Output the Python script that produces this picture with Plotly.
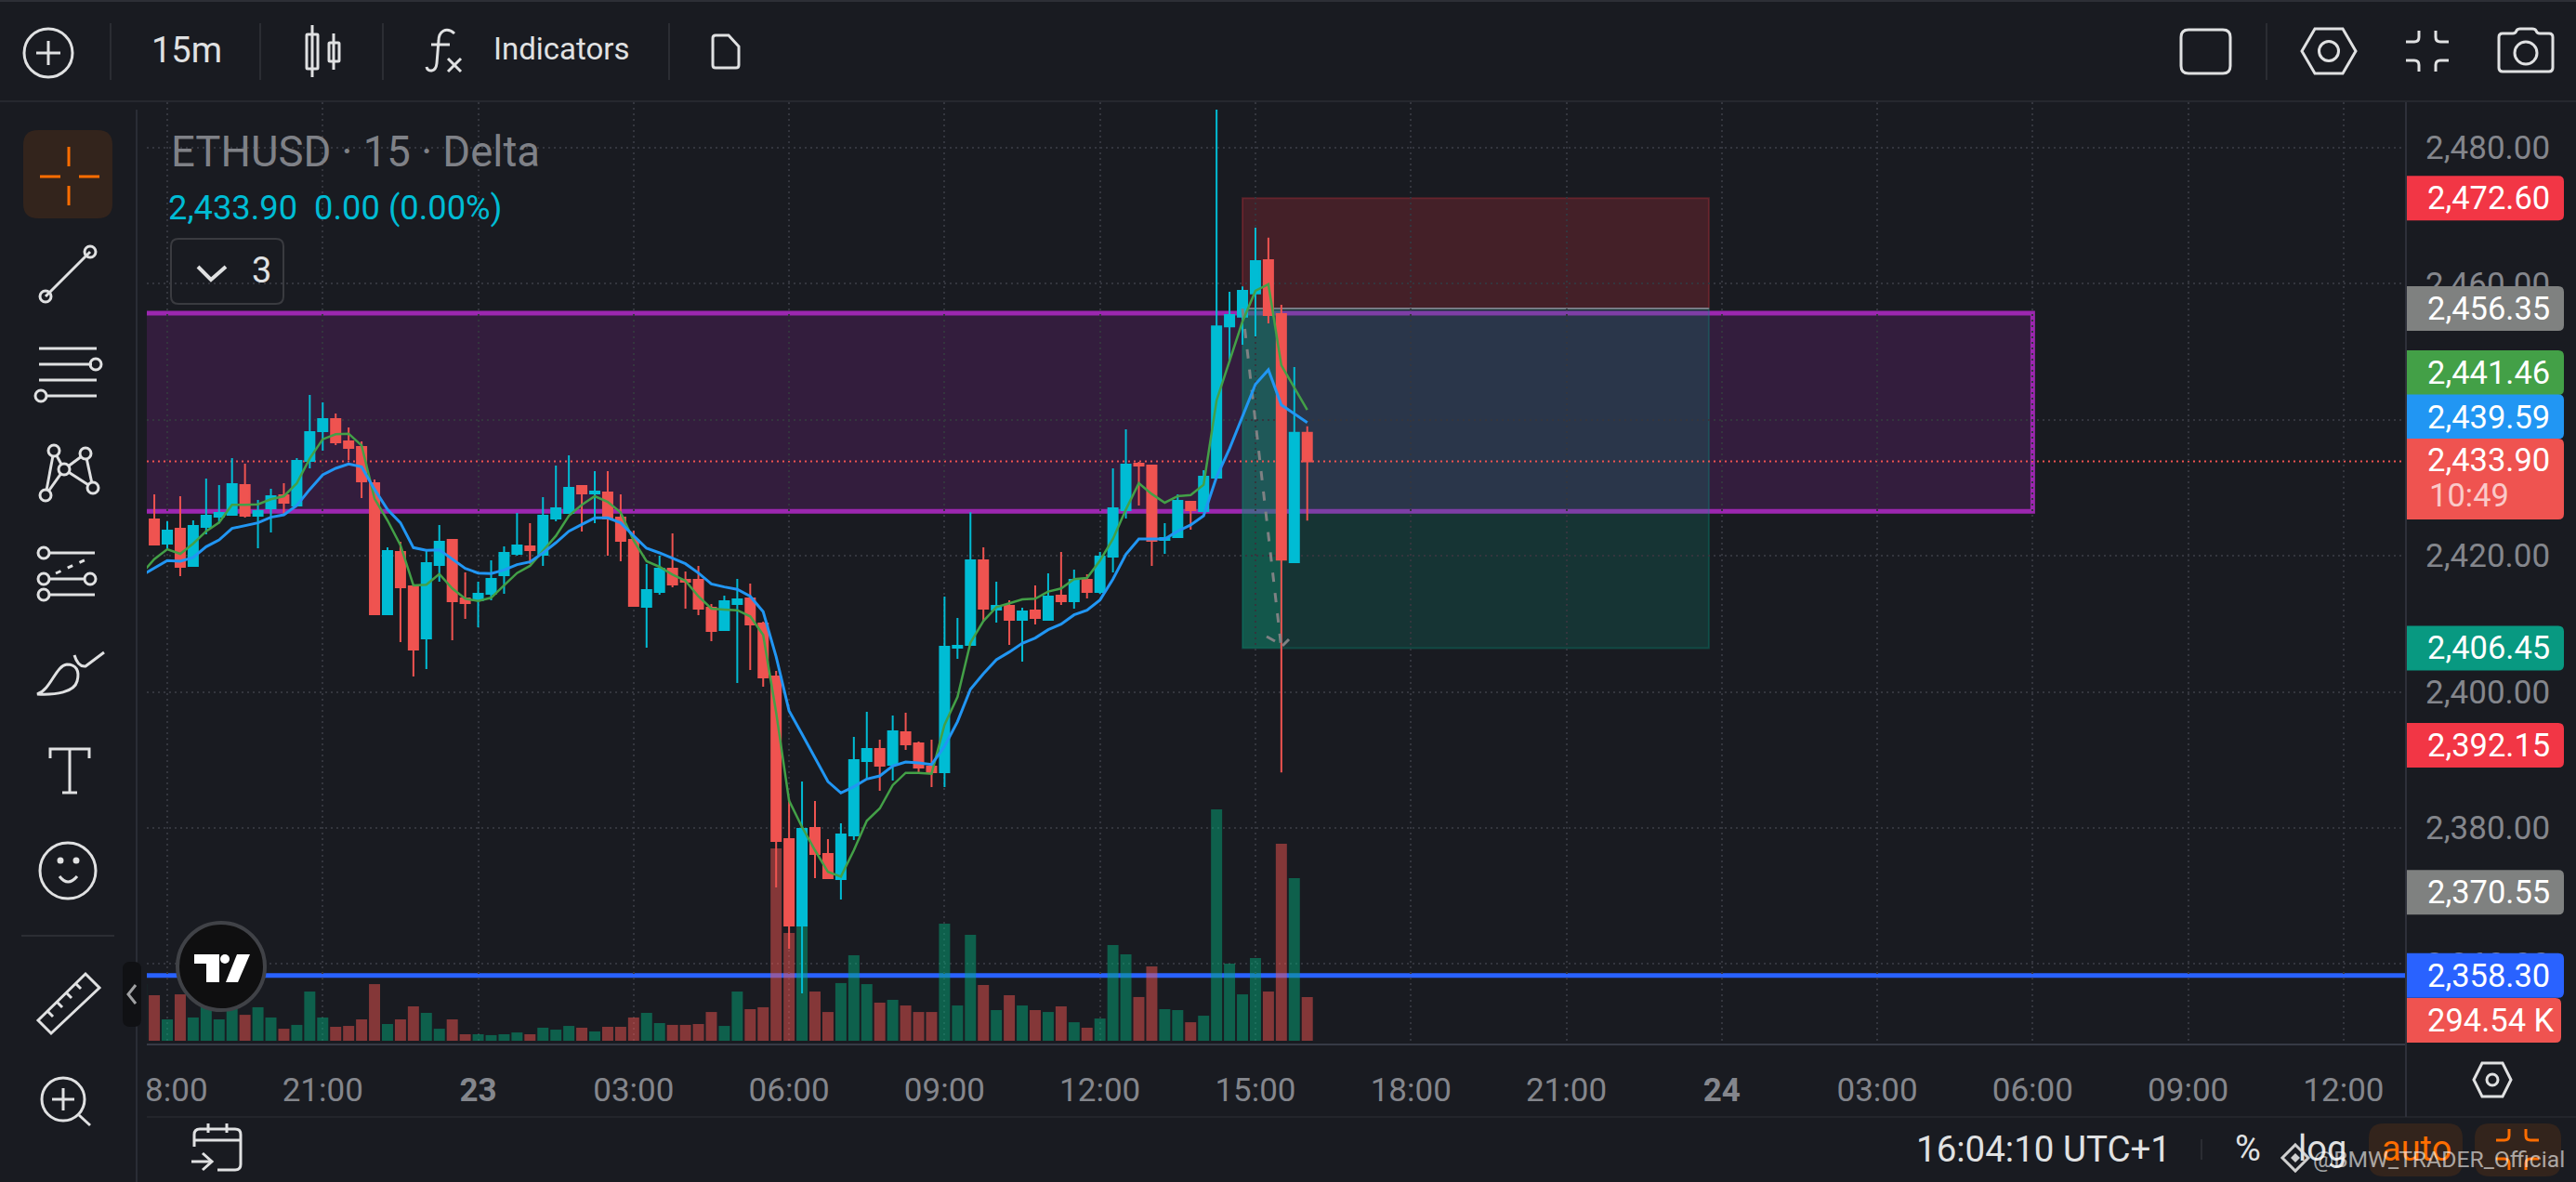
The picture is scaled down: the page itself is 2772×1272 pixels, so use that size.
import pandas as pd
import plotly.graph_objects as go

W, H = 2772, 1272
PLOT_L, PLOT_R, PLOT_T, PLOT_B = 158, 2588, 110, 1123
BAR_PX = 13.94

BG = "#191b21"
UP = "#00BCD4"
DOWN = "#EF5350"
GREY_TXT = "#84868c"
ICON = "#e0e1e2"
ORANGE = "#FF6D00"
FONT = "Roboto"

# 15 minute bars, first one (17:30) is only a sliver of volume at the left edge
times = pd.date_range("2025-06-22 17:30", periods=91, freq="15min")

opens = [
    2425.36, 2421.81, 2423.99, 2418.53, 2424.26, 2425.77, 2426.04, 2430.41, 2425.90, 2427.00,
    2428.91, 2427.41, 2433.96, 2438.33, 2440.11, 2436.83, 2436.01, 2430.68, 2411.42, 2420.58,
    2415.52, 2407.87, 2418.66, 2422.35, 2413.74, 2413.47, 2414.43, 2417.16, 2420.30, 2421.39,
    2420.17, 2425.49, 2426.31, 2430.27, 2429.18, 2429.32, 2425.63, 2422.35, 2412.51, 2414.70,
    2418.12, 2416.48, 2416.48, 2412.38, 2409.10, 2412.92, 2413.74, 2410.06, 2402.27, 2378.36,
    2365.65, 2380.00, 2376.18, 2372.49, 2378.91, 2389.84, 2391.61, 2389.29, 2394.07, 2392.43,
    2389.02, 2388.20, 2406.50, 2406.91, 2419.35, 2412.11, 2412.65, 2410.60, 2411.97, 2410.60,
    2414.15, 2413.33, 2416.48, 2414.70, 2419.89, 2426.72, 2433.55, 2433.28, 2422.35, 2422.76,
    2427.95, 2426.59, 2431.50, 2453.74, 2455.16, 2458.58, 2463.48, 2455.55, 2419.06, 2438.08,
]
highs = [
    2429.04, 2425.08, 2428.77, 2425.22, 2431.37, 2430.41, 2434.37, 2433.55, 2428.23, 2429.86,
    2430.68, 2434.37, 2443.66, 2442.57, 2440.93, 2438.88, 2436.83, 2431.23, 2421.26, 2422.08,
    2415.52, 2420.85, 2424.54, 2422.35, 2417.57, 2416.20, 2419.35, 2421.39, 2426.31, 2424.81,
    2428.64, 2433.28, 2434.78, 2430.27, 2432.46, 2432.46, 2429.04, 2423.72, 2418.80, 2420.03,
    2423.31, 2417.71, 2418.53, 2412.92, 2414.15, 2416.61, 2415.93, 2410.33, 2403.09, 2384.24,
    2386.83, 2383.96, 2378.36, 2380.68, 2393.39, 2397.08, 2392.98, 2396.53, 2396.94, 2392.70,
    2392.98, 2414.02, 2410.88, 2426.40, 2421.26, 2416.20, 2413.47, 2412.38, 2415.66, 2417.43,
    2420.58, 2417.98, 2417.30, 2420.58, 2432.87, 2438.61, 2433.83, 2433.42, 2424.81, 2429.04,
    2428.09, 2432.60, 2485.59, 2458.84, 2459.61, 2468.25, 2466.77, 2456.90, 2447.75, 2439.04,
]
lows = [
    2421.67, 2420.89, 2417.02, 2418.53, 2423.17, 2424.76, 2426.04, 2425.63, 2421.12, 2423.44,
    2426.04, 2427.41, 2432.87, 2435.47, 2436.29, 2434.10, 2428.50, 2411.29, 2411.42, 2407.32,
    2402.27, 2403.36, 2416.20, 2407.60, 2410.74, 2409.51, 2413.47, 2414.43, 2420.03, 2418.84,
    2418.53, 2425.08, 2426.18, 2423.58, 2424.81, 2420.03, 2419.21, 2412.65, 2406.50, 2414.29,
    2415.38, 2412.24, 2411.29, 2407.46, 2409.10, 2401.31, 2403.23, 2400.77, 2371.26, 2362.24,
    2355.68, 2372.62, 2372.62, 2369.48, 2378.23, 2387.24, 2385.47, 2386.97, 2391.48, 2388.06,
    2386.01, 2386.01, 2404.86, 2406.91, 2410.33, 2410.19, 2406.91, 2404.45, 2409.92, 2410.60,
    2412.79, 2412.24, 2413.74, 2414.43, 2417.57, 2425.49, 2427.41, 2418.53, 2420.30, 2422.62,
    2423.85, 2426.59, 2431.50, 2448.46, 2451.04, 2452.26, 2454.19, 2388.17, 2419.06, 2425.18,
]
closes = [
    2421.67, 2423.72, 2418.39, 2424.40, 2425.90, 2426.31, 2430.55, 2425.90, 2426.59, 2428.77,
    2427.82, 2433.96, 2438.20, 2440.11, 2436.70, 2435.88, 2430.96, 2411.42, 2420.71, 2415.38,
    2406.23, 2418.94, 2422.08, 2413.33, 2413.06, 2414.43, 2416.61, 2420.44, 2421.53, 2420.85,
    2425.90, 2427.00, 2430.00, 2429.18, 2429.45, 2425.49, 2422.21, 2412.65, 2414.97, 2418.12,
    2415.79, 2416.20, 2412.24, 2408.96, 2413.33, 2413.61, 2409.92, 2402.13, 2378.09, 2365.65,
    2379.86, 2376.18, 2372.62, 2379.05, 2389.97, 2391.61, 2389.15, 2394.21, 2392.30, 2388.88,
    2388.20, 2406.64, 2406.78, 2419.35, 2412.24, 2412.65, 2410.60, 2411.83, 2410.88, 2414.02,
    2413.33, 2416.48, 2414.70, 2419.89, 2427.00, 2433.42, 2433.28, 2422.21, 2422.62, 2428.09,
    2426.72, 2431.64, 2453.74, 2455.42, 2458.97, 2463.35, 2455.42, 2419.44, 2438.08, 2433.90,
]

ema_fast = [
    2417.34, 2419.53, 2420.98, 2420.30, 2421.81, 2423.63, 2424.90, 2427.50, 2427.50, 2427.59,
    2428.32, 2428.77, 2430.68, 2434.33, 2437.15, 2437.88, 2437.97, 2436.24, 2428.41, 2425.22,
    2421.58, 2415.66, 2415.75, 2417.34, 2415.20, 2413.70, 2413.38, 2413.84, 2415.66, 2417.48,
    2418.53, 2420.67, 2422.94, 2425.90, 2427.50, 2428.77, 2427.95, 2426.36, 2422.26, 2419.21,
    2418.39, 2417.25, 2416.34, 2414.06, 2412.24, 2412.11, 2412.01, 2411.10, 2408.37, 2396.99,
    2384.01, 2380.14, 2376.72, 2373.54, 2372.85, 2376.72, 2381.05, 2382.87, 2386.29, 2388.11,
    2388.11, 2387.97, 2395.17, 2399.26, 2407.23, 2410.42, 2412.47, 2413.02, 2413.61, 2413.70,
    2414.75, 2415.20, 2416.57, 2416.75, 2419.30, 2422.49, 2426.81, 2430.68, 2429.09, 2427.82,
    2428.77, 2428.95, 2430.46, 2442.85, 2448.65, 2454.45, 2458.97, 2459.93, 2448.01, 2444.78,
    2441.46,
]
ema_slow = [
    2417.11, 2418.25, 2419.30, 2419.21, 2419.76, 2421.35, 2422.35, 2424.04, 2424.40, 2424.86,
    2425.68, 2426.04, 2427.41, 2429.77, 2431.91, 2432.87, 2433.51, 2433.10, 2429.77, 2426.81,
    2424.86, 2421.21, 2420.81, 2420.89, 2419.53, 2418.16, 2417.48, 2417.39, 2417.93, 2418.71,
    2419.12, 2420.44, 2421.94, 2423.63, 2424.63, 2425.58, 2425.58, 2424.86, 2422.94, 2421.12,
    2420.44, 2419.62, 2418.84, 2417.48, 2415.88, 2415.43, 2415.07, 2414.06, 2411.79, 2405.18,
    2397.22, 2393.80, 2390.38, 2386.83, 2385.15, 2386.06, 2387.20, 2387.65, 2389.11, 2389.70,
    2389.56, 2389.34, 2391.98, 2395.62, 2400.40, 2402.68, 2404.73, 2405.87, 2407.14, 2407.92,
    2409.15, 2409.97, 2411.33, 2412.01, 2413.52, 2416.57, 2420.21, 2422.49, 2422.49, 2422.49,
    2423.63, 2424.54, 2425.90, 2431.60, 2435.75, 2440.59, 2445.23, 2447.36, 2442.20, 2440.91,
    2439.59,
]

# volume in thousands
volume_k = [
    382, 307, 144, 313, 157, 230, 144, 219, 175, 226,
    157, 81, 107, 332, 157, 94, 100, 144, 382, 113,
    144, 232, 188, 81, 144, 44, 44, 38, 44, 56,
    44, 88, 75, 100, 88, 63, 94, 94, 157, 188,
    119, 107, 107, 113, 194, 100, 332, 213, 226, 1297,
    727, 790, 332, 194, 389, 577, 382, 257, 276, 238,
    194, 194, 790, 238, 714, 376, 207, 307, 238, 207,
    194, 232, 125, 88, 150, 646, 583, 295, 501, 213,
    207, 125, 169, 1560, 520, 313, 558, 332, 1329, 1097,
    294.54,
]

price_ticks = [2480, 2460, 2440, 2420, 2400, 2380, 2360]
time_ticks = pd.date_range("2025-06-22 18:00", periods=15, freq="3h")
time_labels = ["18:00", "21:00", "<b>23</b>", "03:00", "06:00", "09:00", "12:00", "15:00",
               "18:00", "21:00", "<b>24</b>", "03:00", "06:00", "09:00", "12:00"]

# drawings on the chart
zone_top = 2455.68
zone_bottom = 2426.54
zone_end = "2025-06-24 06:00"
stop_price = 2472.60
entry_price = 2456.35
target_price = 2406.45
pos_start = "2025-06-23 14:45"
pos_fill_end = "2025-06-23 15:30"
pos_end = "2025-06-23 23:45"
hline_price = 2358.30
last_price = 2433.90

# right hand price tags: value, colour
tag_values = [2472.60, 2456.35, 2441.46, 2439.59, 2406.45, 2392.15, 2370.55, 2358.30]
tag_colors = ["#F23645", "#7f8180", "#43A047", "#2196F3", "#089981", "#F23645", "#7f8180", "#2962FF"]
# these two tags are stacked apart on the axis so they do not collide
tag_stacked_y = {2441.46: 401, 2439.59: 448.5}


def fx(x):
    return x / W


def fy(y):
    return 1 - y / H


def y_of_price(p):
    return 159 + (2480 - p) * 7.32


def px_path(d):
    # absolute M/L/Q/C/Z path in screen pixels -> paper fractions
    out, is_x = [], True
    for tok in d.split():
        if tok.isalpha():
            out.append(tok)
            is_x = True
        else:
            out.append(f"{fx(float(tok)):.5f}" if is_x else f"{fy(float(tok)):.5f}")
            is_x = not is_x
    return " ".join(out)


shapes = []
annotations = []


def path(d, color=ICON, width=3, fill=None):
    shapes.append(dict(type="path", path=px_path(d), xref="paper", yref="paper", layer="above",
                       line=dict(color=color, width=width), fillcolor=fill or "rgba(0,0,0,0)"))


def seg(x0, y0, x1, y1, color=ICON, width=3, dash=None):
    shapes.append(dict(type="line", xref="paper", yref="paper", layer="above",
                       x0=fx(x0), x1=fx(x1), y0=fy(y0), y1=fy(y1),
                       line=dict(color=color, width=width, dash=dash)))


def circle(cx, cy, r, color=ICON, width=3, fill=None):
    shapes.append(dict(type="circle", xref="paper", yref="paper", layer="above",
                       x0=fx(cx - r), x1=fx(cx + r), y0=fy(cy - r), y1=fy(cy + r),
                       line=dict(color=color, width=width), fillcolor=fill or "rgba(0,0,0,0)"))


def rrect(x0, y0, x1, y1, r, color=ICON, width=3, fill=None, left_r=None):
    lr = r if left_r is None else left_r
    path(f"M {x0 + lr} {y0} L {x1 - r} {y0} Q {x1} {y0} {x1} {y0 + r} L {x1} {y1 - r} "
         f"Q {x1} {y1} {x1 - r} {y1} L {x0 + lr} {y1} Q {x0} {y1} {x0} {y1 - lr} "
         f"L {x0} {y0 + lr} Q {x0} {y0} {x0 + lr} {y0} Z", color, width, fill)


def text(x, y, s, size, color=ICON, anchor="left", **kw):
    annotations.append(dict(x=fx(x), y=fy(y), xref="paper", yref="paper", text=s, showarrow=False,
                            xanchor=anchor, yanchor="middle", borderpad=0,
                            font=dict(family=FONT, size=size, color=color), **kw))


def collapse_icon(cx, cy, color=ICON):
    for sx, sy in [(-1, -1), (1, -1), (-1, 1), (1, 1)]:
        path(f"M {cx + sx * 23} {cy + sy * 10} L {cx + sx * 14} {cy + sy * 10} "
             f"Q {cx + sx * 9} {cy + sy * 10} {cx + sx * 9} {cy + sy * 15} L {cx + sx * 9} {cy + sy * 22}",
             color, 3)


def hexagon(cx, cy, hw, hh, inner, r):
    path(f"M {cx - hw} {cy} L {cx - inner} {cy - hh} L {cx + inner} {cy - hh} L {cx + hw} {cy} "
         f"L {cx + inner} {cy + hh} L {cx - inner} {cy + hh} Z")
    circle(cx, cy, r)


fig = go.Figure()

VOL_UP = "rgba(3,165,119,0.5)"
VOL_DOWN = "rgba(239,83,80,0.5)"
volume_colors = [VOL_UP] + [VOL_UP if c >= o else VOL_DOWN for o, c in zip(opens, closes)]
fig.add_trace(go.Bar(x=times, y=volume_k, marker=dict(color=volume_colors, line_width=0),
                     yaxis="y", showlegend=False))

# trade path of the position tool
fig.add_trace(go.Scatter(x=[pos_start, pos_fill_end], y=[entry_price, target_price], mode="lines",
                         line=dict(color="#7f8183", width=3, dash="10px,12px"),
                         yaxis="y2", showlegend=False))

fig.add_trace(go.Scatter(x=times, y=ema_fast, mode="lines", line=dict(color="#43A047", width=2.5),
                         yaxis="y2", showlegend=False))
fig.add_trace(go.Scatter(x=times, y=ema_slow, mode="lines", line=dict(color="#2196F3", width=3),
                         yaxis="y2", showlegend=False))
fig.add_trace(go.Candlestick(x=times[1:], open=opens, high=highs, low=lows, close=closes,
                             increasing=dict(line=dict(color=UP, width=2), fillcolor=UP),
                             decreasing=dict(line=dict(color=DOWN, width=2), fillcolor=DOWN),
                             whiskerwidth=0, yaxis="y2", showlegend=False))

bar_ms = pd.Timedelta(minutes=15)
x_lo = time_ticks[0] - bar_ms * ((180 - PLOT_L) / BAR_PX)
x_hi = time_ticks[0] + bar_ms * ((PLOT_R - 180) / BAR_PX)

# drawings under the candles
data_shapes = [
    dict(type="rect", x0=x_lo - bar_ms, x1=zone_end, y0=zone_bottom, y1=zone_top,
         line=dict(color="#9C27B0", width=5), fillcolor="rgba(156,39,176,0.2)"),
    dict(type="rect", x0=pos_start, x1=pos_end, y0=entry_price, y1=stop_price,
         line=dict(color="rgba(242,54,69,0.25)", width=2), fillcolor="rgba(242,54,69,0.2)"),
    dict(type="rect", x0=pos_start, x1=pos_end, y0=target_price, y1=entry_price,
         line=dict(color="rgba(8,153,129,0.3)", width=2), fillcolor="rgba(8,153,129,0.2)"),
    dict(type="rect", x0=pos_start, x1=pos_fill_end, y0=target_price, y1=entry_price,
         line=dict(width=0), fillcolor="rgba(16,140,110,0.4)"),
    dict(type="line", x0=pos_start, x1=pos_end, y0=entry_price, y1=entry_price,
         line=dict(color="#787b86", width=2)),
    dict(type="line", x0=x_lo, x1=x_hi, y0=hline_price, y1=hline_price,
         line=dict(color="#2962FF", width=5)),
    dict(type="line", x0=x_lo, x1=x_hi, y0=last_price, y1=last_price,
         line=dict(color=DOWN, width=2, dash="2px,4px")),
]
for s in data_shapes:
    shapes.append(dict(xref="x", yref="y2", layer="below", **s))

# arrow head of the trade path
seg(1363, 685, 1372, 690, "#7f8183", 3)
seg(1387, 688, 1380, 695, "#7f8183", 3)

# cover the clipped part of the first time label, left panel edge
shapes.append(dict(type="rect", xref="paper", yref="paper", layer="above",
                   x0=0, x1=fx(PLOT_L), y0=fy(1200), y1=fy(1124), line_width=0, fillcolor=BG))
seg(0, 1, W, 1, "#2d2f36", 2)
seg(0, 109, W, 109, "#26282f", 2)
seg(147, 118, 147, H, "#2a2d35", 2)
seg(PLOT_L, 1202, W, 1202, "#23252b", 2)
seg(2589, PLOT_B, 2589, 1202, "#2e303a", 2)

# price tags
LBL_X = 2611
TAG_SIZE = 34.5
for v, c in zip(tag_values, tag_colors):
    yc = tag_stacked_y.get(v, y_of_price(v))
    rrect(2590, yc - 24, 2759, yc + 24, 6, c, 0, c, left_r=0.01)
    text(LBL_X, yc, f"{v:,.2f}", TAG_SIZE, "#ffffff")
rrect(2590, 472, 2759, 559, 6, DOWN, 0, DOWN, left_r=0.01)
text(LBL_X, 495, f"{last_price:,.2f}", TAG_SIZE, "#ffffff")
text(LBL_X + 2, 533, "10:49", TAG_SIZE, "rgba(255,255,255,0.7)")
rrect(2590, 1074, 2756, 1122, 6, DOWN, 0, DOWN, left_r=0.01)
text(LBL_X, 1098, f"{volume_k[-1]:.2f} K", TAG_SIZE, "#ffffff")

# legend block
text(183, 163, "ETHUSD · 15 · Delta", 45.5, "#7f8187")
text(180, 224, "2,433.90&nbsp;&nbsp;0.00 (0.00%)", 36.3, UP)
rrect(184, 257, 305, 327, 8, "#3a3b40", 2)
path("M 213 287 L 227 301 L 243 287", ICON, 4)
text(281, 291, "3", 38, ICON, "center")

# top bar
circle(52, 57, 26)
seg(39, 57, 65, 57)
seg(52, 44, 52, 70)
for x in [119, 280, 412, 720]:
    seg(x, 25, x, 86, "#2b2d33", 2)
seg(2439, 25, 2439, 86, "#2b2d33", 2)
text(201, 54, "15m", 38, ICON, "center")
seg(336, 27, 336, 83)
rrect(330, 37, 342, 74, 1)
seg(359, 36, 359, 75)
rrect(354, 46, 365, 66, 1)
path("M 489 36 C 480 28 472 34 472 44 L 470 68 C 469 78 460 78 459 72")
seg(464, 48, 484, 48)
seg(482, 63, 496, 77)
seg(496, 63, 482, 77)
text(530, 53, "Indicators", 33, ICON)
path("M 770 38 L 784 38 L 795 50 L 795 70 Q 795 73 792 73 L 770 73 Q 767 73 767 70 L 767 41 Q 767 38 770 38 Z")
rrect(2347, 32, 2400, 79, 8)
hexagon(2506, 55, 29, 24, 15, 10.5)
collapse_icon(2612, 55)
path("M 2693 36 L 2704 36 Q 2707 36 2708 33 Q 2709 31 2712 31 L 2725 31 Q 2728 31 2729 33 "
     "Q 2730 36 2733 36 L 2743 36 Q 2747 36 2747 40 L 2747 73 Q 2747 77 2743 77 L 2693 77 "
     "Q 2689 77 2689 73 L 2689 40 Q 2689 36 2693 36 Z")
circle(2718, 57, 12)

# left toolbar
rrect(25, 140, 121, 235, 16, "#33241c", 0, "#33241c")
seg(43, 190, 65, 190, ORANGE, 3)
seg(85, 190, 107, 190, ORANGE, 3)
seg(74, 158, 74, 179, ORANGE, 3)
seg(74, 200, 74, 221, ORANGE, 3)
# trend line
seg(49, 319, 97, 271)
circle(97, 271, 6)
circle(49, 319, 6)
# lines tool
seg(42, 375, 104, 375)
seg(42, 392, 99, 392)
circle(103, 392, 6)
seg(42, 409, 104, 409)
seg(49, 426, 104, 426)
circle(44, 426, 6)
# pattern tool
seg(49, 533, 58, 485)
seg(58, 485, 69, 505)
seg(69, 505, 92, 488)
seg(92, 488, 100, 525)
seg(69, 505, 49, 533)
seg(69, 505, 100, 525)
for cx, cy in [(58, 485), (92, 488), (69, 505), (49, 533), (100, 525)]:
    circle(cx, cy, 6, fill=BG)
# channel tool
seg(52, 595, 102, 595)
circle(47, 595, 6)
seg(60, 617, 97, 600, dash="6px,8px")
seg(52, 623, 92, 623)
circle(47, 623, 6)
circle(97, 623, 6)
seg(52, 640, 102, 640)
circle(47, 640, 6)
# brush
path("M 40 747 C 55 742 60 716 72 715 C 82 715 86 722 83 733 C 80 745 60 748 40 747 Z")
path("M 80 705 Q 84 718 92 717 L 112 702")
# text tool
path("M 54 816 L 54 806 L 96 806 L 96 816")
seg(75, 806, 75, 853)
seg(67, 853, 83, 853)
# smile
circle(73, 937, 30)
circle(65, 926, 2, fill=ICON)
circle(82, 926, 2, fill=ICON)
path("M 64 943 Q 73 955 83 943")
seg(23, 1007, 123, 1007, "#2b2d33", 2)
# ruler
path("M 41 1098 L 92 1048 L 107 1063 L 55 1112 Z")
for x, y in [(51, 1088), (61, 1078), (71, 1068), (81, 1058)]:
    seg(x, y, x + 6, y + 6)
# magnifier
circle(68, 1183, 23)
seg(85, 1200, 97, 1211)
seg(56, 1183, 80, 1183)
seg(68, 1171, 68, 1195)
# collapse tab
rrect(132, 1035, 152, 1105, 8, "#101114", 0, "#101114")
path("M 146 1060 L 138 1070 L 146 1080", "#a0a1a3", 3)

# logo
circle(238, 1040, 47, "#404247", 4, "#0f0f10")
path("M 209 1027 L 236 1027 L 236 1057 L 222 1057 L 222 1037 L 209 1037 Z", "#ffffff", 0, "#ffffff")
circle(242, 1032, 5, "#ffffff", 0, "#ffffff")
path("M 255 1027 L 269 1027 L 256 1057 L 243 1057 Z", "#ffffff", 0, "#ffffff")

# bottom bar
path("M 209 1234 L 209 1221 Q 209 1215 215 1215 L 253 1215 Q 259 1215 259 1221 L 259 1253 "
     "Q 259 1259 253 1259 L 234 1259")
seg(209, 1227, 259, 1227)
seg(224, 1209, 224, 1219)
seg(244, 1209, 244, 1219)
seg(206, 1250, 228, 1250)
path("M 218 1241 L 228 1250 L 218 1259")
text(2061, 1236, "16:04:10 UTC+1", 38.5, ICON)
seg(2369, 1226, 2369, 1248, "#2b2d33", 2)
text(2419, 1236, "%", 38, ICON, "center")
text(2499, 1236, "log", 38, ICON, "center")
rrect(2549, 1209, 2650, 1266, 16, "#33241c", 0, "#33241c")
text(2600, 1236, "auto", 38, ORANGE, "center")
rrect(2663, 1209, 2756, 1266, 16, "#33241c", 0, "#33241c")
collapse_icon(2709, 1237, ORANGE)
hexagon(2682, 1162, 20, 18, 11, 6)
# watermark
path("M 2470 1232 L 2484 1246 L 2470 1260 L 2456 1246 Z", "#cfcfcf", 3)
path("M 2470 1241 L 2475 1246 L 2470 1251 L 2465 1246 Z", "#cfcfcf", 0, "#cfcfcf")
text(2488, 1247, "@BMW_TRADER_Official", 24.7, "rgba(255,255,255,0.62)")

grid = dict(showgrid=True, gridcolor="#34363e", gridwidth=2, griddash="2px,4px")

fig.update_layout(
    width=W, height=H, autosize=False,
    margin=dict(l=0, r=0, t=0, b=0, autoexpand=False),
    paper_bgcolor=BG, plot_bgcolor=BG,
    font=dict(family=FONT, color=GREY_TXT),
    showlegend=False, hovermode=False, dragmode=False,
    bargap=0.14, boxgap=0.283, boxgroupgap=0,
    xaxis=dict(domain=[fx(PLOT_L), fx(PLOT_R)], range=[x_lo, x_hi], type="date",
               rangeslider=dict(visible=False), anchor="y",
               tickmode="array", tickvals=list(time_ticks), ticktext=time_labels,
               tickfont=dict(size=35, color=GREY_TXT), ticks="outside", ticklen=18,
               tickcolor="rgba(0,0,0,0)", showline=True, linecolor="#363a45", linewidth=2,
               zeroline=False, **grid),
    # volume sits on the base axis so the candles draw over it
    yaxis=dict(domain=[fy(PLOT_B), fy(PLOT_T)], range=[-18.8, 6330], visible=False,
               showgrid=False, zeroline=False),
    yaxis2=dict(domain=[fy(PLOT_B), fy(PLOT_T)], overlaying="y", side="right", anchor="x",
                range=[2480 - (PLOT_B - 159) / 7.32, 2480 + (159 - PLOT_T) / 7.32],
                tickmode="array", tickvals=price_ticks, tickformat=",.2f",
                tickfont=dict(size=35, color=GREY_TXT), ticks="outside", ticklen=13,
                tickcolor="rgba(0,0,0,0)", showline=True, linecolor="#2e303a", linewidth=2,
                zeroline=False, **grid),
    shapes=shapes,
    annotations=annotations,
)

fig.write_html("out.html", config=dict(displayModeBar=False),
               post_script="document.body.style.margin='0';document.body.style.overflow='hidden';")
